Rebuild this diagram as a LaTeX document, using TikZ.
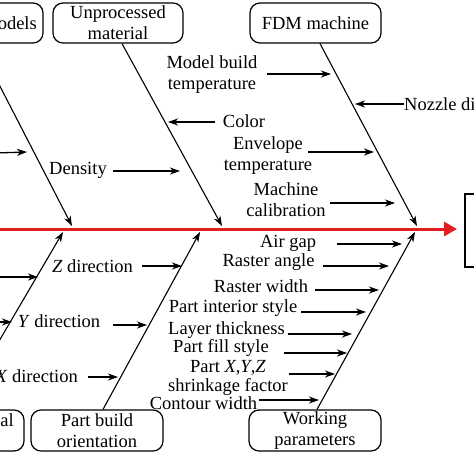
\documentclass[tikz,border=0pt]{standalone}
\usepackage{fontspec}
\setmainfont{Liberation Serif}
\usetikzlibrary{arrows.meta}
\definecolor{spinered}{RGB}{228,30,30}
\begin{document}
\begin{tikzpicture}[x=1pt,y=-1pt,
  every node/.style={font=\fontsize{18.5}{21}\selectfont, inner sep=0pt},
  box/.style={draw, rounded corners=10pt, line width=1.2pt, minimum width=130pt, minimum height=40pt, align=center},
  lbl/.style={align=center},
  bone/.style={line width=1.1pt, -{Stealth[length=10pt,width=7pt,inset=3pt]}},
  sub/.style={line width=1.3pt, -{Stealth[length=10pt,width=7pt,inset=3pt]}},
  spine/.style={draw=spinered, line width=3pt, -{Triangle[length=13pt,width=14pt]}}]
\useasboundingbox (0,0) rectangle (474,474);
\clip (0,0) rectangle (474,474);

% boxes
\node[box] (mod) at (-22,23) {};
\node[lbl, anchor=east] (modt) at (37,23) {models};
\node[box] (unp) at (118,23) {Unprocessed\\material};
\node[box, minimum width=131pt] (fdm) at (315.5,23) {FDM machine};
\node[box, minimum height=41pt] (mat) at (-41,430.5) {};
\node[lbl, anchor=east] (matt) at (14,420) {material};
\node[box, minimum width=132pt, minimum height=41pt] (pbo) at (97,430.5) {Part build\\orientation};
\node[box, minimum width=132pt, minimum height=41pt] (wpa) at (315,430.5) {Working\\parameters};
\node[draw, line width=1.3pt, minimum width=95pt, minimum height=73pt] (qual) at (512.5,230.5) {};

% spine
\coordinate (s0) at (-5,229);
\coordinate (s1) at (457,229);
\draw[spine] (s0) -- (s1);

% bones
\coordinate (t1) at (72,226);
\coordinate (t2) at (222,226);
\coordinate (t3) at (417,226);
\coordinate (t4) at (63,232);
\coordinate (t5) at (200,232);
\coordinate (t6) at (415,232);
\draw[bone] (mod.south) -- (t1);
\draw[bone] ([xshift=4pt]unp.south) -- (t2);
\draw[bone] ([xshift=4.5pt]fdm.south) -- (t3);
\draw[bone] (mat.north) -- (t4);
\draw[bone] ([xshift=6pt]pbo.north) -- (t5);
\draw[bone] ([xshift=2pt]wpa.north) -- (t6);

% top causes
\coordinate (a1s) at (-5,153);
\coordinate (a1t) at (27,152);
\draw[sub] (a1s) -- (a1t);

\node[lbl] (dens) at (78,170) {Density};
\coordinate (denT) at (180,171);
\draw[sub, shorten <=6pt] (dens.east |- denT) -- (denT);

\node[lbl] (col) at (244,121) {Color};
\coordinate (colT) at (168,122);
\draw[sub, shorten <=8pt] (col.west |- colT) -- (colT);

\node[lbl] (mbt) at (212,75) {Model build\\temperature};
\coordinate (mbtT) at (331,74);
\draw[sub, shorten <=9pt] (mbt.east |- mbtT) -- (mbtT);

\node[lbl, anchor=west] (noz) at (404,104) {Nozzle diameter};
\coordinate (nozT) at (355,104);
\draw[sub] (noz.west) -- (nozT);

\node[lbl] (env) at (268,156) {Envelope\\temperature};
\coordinate (envT) at (374,152);
\draw[sub, shorten <=-4pt] (env.east |- envT) -- (envT);

\node[lbl] (mach) at (286,200) {Machine\\calibration};
\coordinate (machT) at (395,203);
\draw[sub, shorten <=4pt] (mach.east |- machT) -- (machT);

% bottom causes
\coordinate (b1s) at (-5,277);
\coordinate (b1t) at (38,277);
\draw[sub] (b1s) -- (b1t);
\coordinate (b2s) at (-5,322);
\coordinate (b2t) at (12,322);
\draw[sub] (b2s) -- (b2t);

\node[lbl] (zd) at (92.5,266) {\textit{Z} direction};
\coordinate (zdT) at (182,266);
\draw[sub, shorten <=9pt] (zd.east |- zdT) -- (zdT);

\node[lbl] (yd) at (59,321) {\textit{Y} direction};
\coordinate (ydT) at (147,325);
\draw[sub, shorten <=13pt] (yd.east |- ydT) -- (ydT);

\node[lbl, anchor=east] (xd) at (78,376) {\textit{X} direction};
\coordinate (xdT) at (118,377);
\draw[sub, shorten <=10pt] (xd.east |- xdT) -- (xdT);

\node[lbl] (air) at (288,243) {Air gap};
\coordinate (airT) at (402,244);
\draw[sub, shorten <=21pt] (air.east |- airT) -- (airT);

\node[lbl] (ra) at (268.5,262) {Raster angle};
\coordinate (raT) at (389,266);
\draw[sub, shorten <=8pt] (ra.east |- raT) -- (raT);

\node[lbl] (rw) at (261,286) {Raster width};
\coordinate (rwT) at (379,290);
\draw[sub, shorten <=7pt] (rw.east |- rwT) -- (rwT);

\node[lbl] (pis) at (233,308) {Part interior style};
\coordinate (pisT) at (366,312);
\draw[sub, shorten <=4pt] (pis.east |- pisT) -- (pisT);

\node[lbl] (lt) at (226.5,330) {Layer thickness};
\coordinate (ltT) at (352,334);
\draw[sub, shorten <=3pt] (lt.east |- ltT) -- (ltT);

\node[lbl] (pfs) at (221,348) {Part fill style};
\coordinate (pfsT) at (347,353);
\draw[sub, shorten <=15pt] (pfs.east |- pfsT) -- (pfsT);

\node[lbl, font=\fontsize{18.5}{19}\selectfont] (psf) at (228,377.5) {Part \textit{X},\textit{Y},\textit{Z}\\shrinkage factor};
\coordinate (psfT) at (335,374);
\draw[sub, shorten <=1pt] (psf.east |- psfT) -- (psfT);

\node[lbl] (cw) at (203.5,403) {Contour width};
\coordinate (cwT) at (319,400);
\draw[sub, shorten <=2pt] (cw.east |- cwT) -- (cwT);
\end{tikzpicture}
\end{document}
